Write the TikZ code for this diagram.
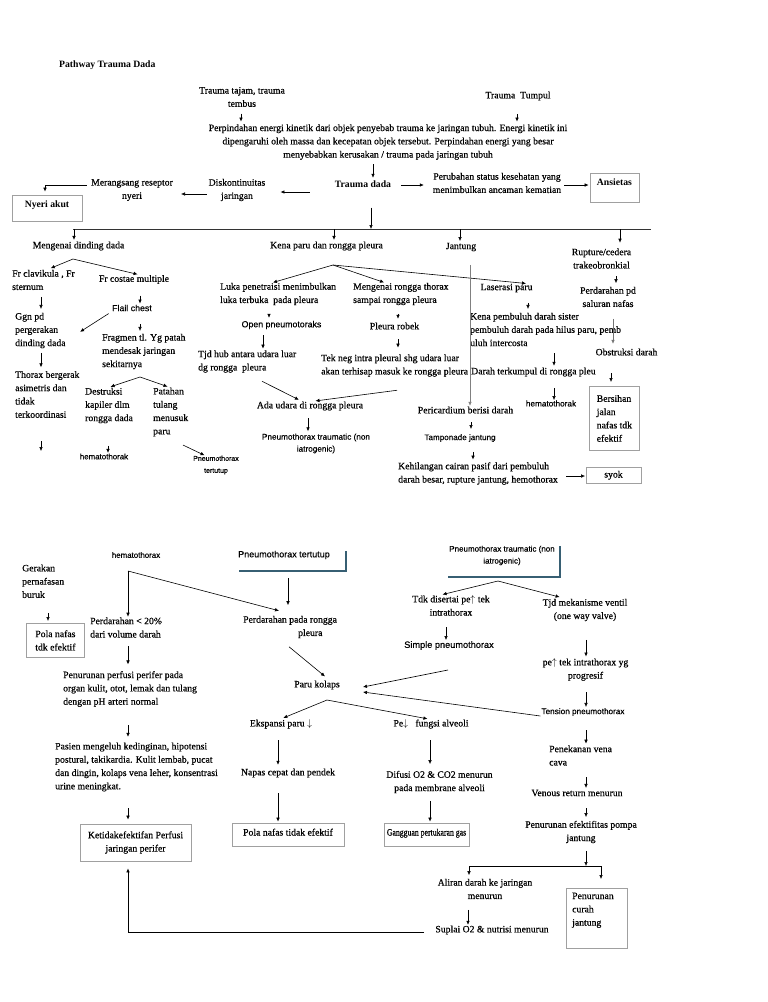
\documentclass[tikz,border=0pt]{standalone}
\usepackage{fontspec}
\setmainfont{Liberation Serif}[UprightFeatures={FakeBold=0.5}]
\setsansfont{Liberation Sans}[UprightFeatures={FakeBold=0.4}]
\usetikzlibrary{arrows.meta,calc}
\newcommand\myfm{\fontsize{9.7}{13.3}\selectfont}
\newcommand\mysf[1]{\sffamily\fontsize{#1}{12}\selectfont}
\definecolor{tealln}{RGB}{55,95,115}
\definecolor{boxg}{RGB}{160,160,160}
\tikzset{
 t/.style={font=\myfm, inner sep=0pt, align=center},
 tl/.style={font=\myfm, inner sep=0pt, align=left, anchor=west},
 s/.style={font=\mysf{#1}, inner sep=0pt, align=center},
 bx/.style={draw=boxg, line width=0.8pt},
 arr/.style={draw=black, line width=0.6pt, -{Latex[length=4pt,width=3.6pt]}},
 va/.style 2 args={arr, shorten <=#1, shorten >=#2},
 ln/.style={draw=black, line width=0.6pt},
}
\begin{document}
\begin{tikzpicture}[x=1pt,y=-1pt]
\fill[white] (0,0) rectangle (768,1002);
\useasboundingbox (0,0) rectangle (768,1002);

% ---------------- top ----------------
\node[tl, font=\myfm\bfseries] (title) at (59,65) {Pathway Trauma Dada};
\node[t] (tt) at (242,97) {Trauma tajam, trauma\\tembus};
\node[t] (tp) at (518,96) {Trauma\ \ Tumpul};
\node[t] (pe) at (388,142) {Perpindahan energi kinetik dari objek penyebab trauma ke jaringan tubuh. Energi kinetik ini\\dipengaruhi oleh massa dan kecepatan objek tersebut. Perpindahan energi yang besar\\menyebabkan kerusakan / trauma pada jaringan tubuh};
\node[t, font=\myfm\bfseries] (td) at (363,184) {Trauma dada};
\node[t] (dk) at (237,190) {Diskontinuitas\\jaringan};
\node[t] (mr) at (132,190) {Merangsang reseptor\\nyeri};
\node[bx, font=\myfm\bfseries, inner sep=0pt, anchor=base, minimum width=70pt, text height=12.5pt, text depth=13.5pt] (na) at (47,207.5) {Nyeri akut};
\node[t] (ps) at (497,183) {Perubahan status kesehatan yang\\menimbulkan ancaman kematian};
\node[bx, font=\myfm\bfseries, inner sep=0pt, anchor=base, minimum width=49pt, text height=12.5pt, text depth=16.5pt] (an) at (614.5,185.5) {Ansietas};

\draw[va={6.5pt}{2.5pt}] (tt.south -| 241,0) -- (pe.north -| 241,0);
\draw[va={13.5pt}{2.5pt}] (tp.south -| 517,0) -- (pe.north -| 517,0);
\draw[va={4.5pt}{2.6pt}] (pe.south -| 373,0) -- (td.north -| 373,0);
\draw[va={25pt}{15pt}] (td.west |- 0,192) -- (dk.east |- 0,192);
\draw[va={2pt}{8pt}] (dk.west |- 0,194) -- (mr.east |- 0,194);
\draw[va={4pt}{3pt}] (mr.west |- 0,185) -| (na.north -| 45,0);
\draw[va={9.5pt}{8.9pt}] (td.east |- 0,185) -- (ps.west |- 0,185);
\draw[va={3pt}{1pt}] (ps.east |- 0,185) -- (an.west |- 0,185);

% bus
\coordinate (busL) at (73,229);
\coordinate (busR) at (651,229);
\coordinate (busC) at (371,229);
\draw[ln, draw=black!80] (busL) -- (busR);
\draw[va={20pt}{0pt}] (td.south -| busC) -- (busC);

\node[t] (md) at (78.5,246) {Mengenai dinding dada};
\node[t] (kp) at (326.5,246) {Kena paru dan rongga pleura};
\node[t] (ja) at (461,247) {Jantung};
\node[t] (rc) at (601.5,258.5) {Rupture/cedera\\trakeobronkial};
\draw[va={0pt}{1.5pt}] (busL -| 74,0) -- (md.north -| 74,0);
\draw[va={0pt}{1.5pt}] (busL -| 334,0) -- (kp.north -| 334,0);
\draw[va={0pt}{1.5pt}] (busL -| 460,0) -- (ja.north -| 460,0);
\draw[va={0pt}{5.5pt}] (busL -| 620,0) -- (rc.north -| 620,0);

% ---------------- left subtree ----------------
\node[tl] (fc) at (12,280) {Fr clavikula , Fr\\sternum};
\node[t] (fm) at (134,279.5) {Fr costae multiple};
\coordinate (mdj) at (73,259);
\draw[va={0pt}{4pt}] (mdj) -- (fc.north -| 47,0);
\draw[va={0pt}{2.5pt}] (mdj) -- (fm.north -| 140,0);
\node[s=8.8] (fl) at (132,308) {Flail chest};
\node[tl] (gg) at (15,330.5) {Ggn pd\\pergerakan\\dinding dada};
\node[tl] (fr) at (102,351.5) {Fragmen tl. Yg patah\\mendesak jaringan\\sekitarnya};
\node[tl] (th) at (15,394.5) {Thorax bergerak\\asimetris dan\\tidak\\terkoordinasi};
\node[tl] (de) at (85,405.5) {Destruksi\\kapiler dlm\\rongga dada};
\node[tl] (pt) at (153,412) {Patahan\\tulang\\menusuk\\paru};
\node[s=7.9] (he1) at (104,456.5) {hematothorak};
\node[s=7] (pn1) at (216,465) {Pneumothorax\\tertutup};

\draw[va={6.5pt}{3.6pt}] (fc.south -| 41,0) -- (gg.north -| 41,0);
\draw[va={11.5pt}{1pt}] (fm.south -| 140,0) -- (fl.north -| 140,0);
\draw[va={13pt}{2.6pt}] (fl.south -| 140,0) -- (fr.north -| 140,0);
\draw[va={4pt}{17pt}] (fl.south west) -- (gg.east |- 0,341);
\draw[va={4.5pt}{3.6pt}] (gg.south -| 41,0) -- (th.north -| 41,0);
\coordinate (frj) at (140,377);
\draw[va={0pt}{2.6pt}] (frj) -- (de.north -| 108,0);
\draw[va={0pt}{2.6pt}] (frj) -- (pt.north -| 170,0);
\draw[arr] (th.south -| 41,0) ++(0,23) -- ++(0,10);
\draw[va={22.5pt}{0.5pt}] (de.south -| 108,0) -- (he1.north -| 108,0);
\draw[va={0pt}{0.5pt}] (pt.south -| 183,0) ++(0,8.5) -- (pn1.north -| 205,0);

% ---------------- middle subtree ----------------
\node[tl] (lp) at (220,294) {Luka penetraisi menimbulkan\\luka terbuka\ \ pada pleura};
\node[tl] (mt) at (353,294) {Mengenai rongga thorax\\sampai rongga pleura};
\node[t] (ls) at (506.5,288) {Laserasi paru};
\coordinate (kpj) at (333,265);
\draw[va={0pt}{1pt}] (kpj) -- (lp.north -| 272,0);
\draw[va={0pt}{1pt}] (kpj) -- (mt.north -| 385,0);
\draw[va={0pt}{1pt}] (kpj) -- (ls.north -| 527,0);
\node[s=8.8] (op) at (281.5,325) {Open pneumotoraks};
\node[t] (pr) at (394.5,326) {Pleura robek};
\node[tl] (kpd) at (470,329.5) {Kena pembuluh darah sister\\pembuluh darah pada hilus paru, pemb\\uluh intercosta};
\draw[va={9.5pt}{2.9pt}] (lp.south -| 269,0) -- (op.north -| 269,0);
\draw[va={8.5pt}{3.6pt}] (mt.south -| 398,0) -- (pr.north -| 398,0);
\draw[va={10.5pt}{3.6pt}] (ls.south -| 528,0) -- (kpd.north -| 528,0);
\node[tl] (tj) at (198,361.5) {Tjd hub antara udara luar\\dg rongga\ \ pleura};
\node[tl] (tn) at (321,365.5) {Tek neg intra pleural shg udara luar\\akan terhisap masuk ke rongga pleura};
\draw[va={6pt}{1.6pt}] (op.south -| 263,0) -- (tj.north -| 263,0);
\draw[va={9.5pt}{6.6pt}] (pr.south -| 398,0) -- (tn.north -| 398,0);
\node[t] (au) at (310,406) {Ada udara di rongga pleura};
\draw[va={0pt}{3.5pt}] (tj.south -| 262,0) ++(0,8.5) -- (au.north -| 302,0);
\draw[va={0pt}{3.5pt}] (tn.south -| 397,0) ++(0,13.5) -- (au.north -| 312,0);
\node[s=8.2] (pnt) at (316,443.5) {Pneumothorax traumatic (non\\iatrogenic)};
\draw[va={7.5pt}{2.2pt}] (au.south -| 308,0) -- (pnt.north -| 308,0);
\node[tl] (dt) at (471,372) {Darah terkumpul di rongga pleu};
\node[s=8.2] (he2) at (551,403.5) {hematothorak};
\draw[va={7pt}{1.6pt}] (kpd.south -| 554,0) -- (dt.north -| 554,0);
\draw[va={11.5pt}{0.2pt}] (dt.south -| 554,0) -- (he2.north -| 554,0);
\node[t] (pc) at (465.5,410) {Pericardium berisi darah};
\draw[va={0pt}{0.6pt}, draw=black!50] (ja.south -| 470,0) ++(0,13.5) -- (pc.north -| 470,0);
\node[s=8.1] (tpj) at (460,438) {Tamponade jantung};
\draw[va={8.5pt}{5pt}] (pc.south -| 471,0) -- (tpj.north -| 471,0);
\node[tl] (kc) at (398,473.5) {Kehilangan cairan pasif dari pembuluh\\darah besar, rupture jantung, hemothorax};
\draw[va={10pt}{2.6pt}] (tpj.south -| 473,0) -- (kc.north -| 473,0);
\node[bx, font=\myfm, inner sep=0pt, anchor=base, minimum width=55pt, text height=10.5pt, text depth=5.5pt] (sy) at (613.5,477.5) {syok};
\draw[va={8pt}{0.5pt}] (kc.east |- 0,476) -- (sy.west |- 0,476);

% ---------------- right subtree ----------------
\node[t] (ps2) at (608,297) {Perdarahan pd\\saluran nafas};
\node[t] (ob) at (626.5,352) {Obstruksi darah};
\node[bx, font=\myfm, inner sep=0pt, align=left, minimum width=50pt, minimum height=64pt, anchor=north west] (bj) at (589,386) {Bersihan\\jalan\\nafas tdk\\efektif};
\draw[va={7.5pt}{3.6pt}] (rc.south -| 616,0) -- (ps2.north -| 616,0);
\draw[va={11.5pt}{4.6pt}, draw=black!55] (ps2.south -| 613,0) -- (ob.north -| 613,0);
\draw[va={17.7pt}{4pt}] (ob.south -| 611,0) -- (bj.north -| 611,0);

% ---------------- bottom ----------------
\node[s=7.9] (hx) at (136,555) {hematothorax};
\node[s=9] (pntt) at (284,555) {Pneumothorax tertutup};
\draw[tealln, line width=1.3pt] (239,571) -- (346,571) -- (346,551);
\node[s=8] (pnt2) at (502,555.5) {Pneumothorax traumatic (non\\iatrogenic)};
\draw[tealln, line width=1.3pt] (448,577) -- (560,577) -- (560,546);
\node[tl] (gp) at (22,581.3) {Gerakan\\pernafasan\\buruk};
\node[bx, font=\myfm, inner sep=0pt, align=left, minimum width=58pt, minimum height=34pt, anchor=north west] (pn2) at (26,623) {Pola nafas\\tdk efektif};
\draw[va={15pt}{2pt}] (gp.south -| 48,0) -- (pn2.north -| 48,0);
\node[tl] (pd) at (90,627.5) {Perdarahan < 20\%\\dari volume darah};
\node[tl] (prp) at (243,627) {Perdarahan pada rongga\\\hspace*{55pt}pleura};
\coordinate (hxj) at (128,571);
\draw[va={0pt}{0.5pt}] (hxj) -- (pd.north -| hxj);
\draw[arr] (hxj) -- ($(prp.north -| 279,0)+(0,-5)$);
\draw[va={19pt}{10.6pt}] (pntt.south -| 288,0) -- (prp.north -| 288,0);
\node[tl] (ppp) at (63,689) {Penurunan perfusi perifer pada\\organ kulit, otot, lemak dan tulang\\dengan pH arteri normal};
\draw[va={8.5pt}{6.6pt}] (pd.south -| 128,0) -- (ppp.north -| 128,0);
\node[t] (pk) at (317,685) {Paru kolaps};
\draw[arr] ($(prp.south -| 289,0)+(0,8.5)$) -- ($(pk.north)+(8,-4)$);

\node[t] (tdk) at (451,605.5) {Tdk disertai pe$\uparrow$ tek\\intrathorax};
\node[t] (tmv) at (585,610) {Tjd mekanisme ventil\\(one way valve)};
\coordinate (pnj) at (498,581);
\draw[va={0pt}{2.6pt}] (pnj) -- (tdk.north -| 440,0);
\draw[va={0pt}{6.6pt}] (pnj) -- (tmv.north -| 566,0);
\node[s=9.2] (sp) at (449,645.5) {Simple pneumothorax};
\draw[va={11.5pt}{1pt}] (tdk.south -| 446,0) -- (sp.north -| 446,0);
\draw[arr] ($(sp.south)+(-1,20)$) -- ($(pk.east)+(23,2)$);
\node[t] (pti) at (585.5,669.5) {pe$\uparrow$ tek intrathorax yg\\progresif};
\draw[va={18.5pt}{1.6pt}] (tmv.south -| 586,0) -- (pti.north -| 586,0);
\node[s=8.2] (tsp) at (583,712) {Tension pneumothorax};
\draw[va={11.5pt}{1pt}] (pti.south -| 586,0) -- (tsp.north -| 586,0);
\draw[arr] ($(tsp.west)+(-1,4)$) -- ($(pk.east)+(23,7)$);

\coordinate (pkj) at (327,700);
\node[t] (ek) at (281,724) {Ekspansi paru $\downarrow$};
\node[t] (pf) at (431,724) {Pe$\downarrow$\ \ \ fungsi alveoli};
\draw[va={0pt}{3.6pt}] (pkj) -- (ek.north -| 280,0);
\draw[va={0pt}{2.6pt}] (pkj) -- (pf.north -| 430,0);

\node[tl] (pv) at (549,755.5) {Penekanan vena\\cava};
\draw[va={14pt}{1.6pt}] (tsp.south -| 586,0) -- (pv.north -| 586,0);
\node[t] (vr) at (577,793) {Venous return menurun};
\draw[va={11.7pt}{1.6pt}] (pv.south -| 586,0) -- (vr.north -| 586,0);
\node[t] (pep) at (581,832) {Penurunan efektifitas pompa\\jantung};
\draw[va={11.7pt}{3.6pt}] (vr.south -| 586,0) -- (pep.north -| 586,0);
\coordinate (spl) at (586,866);
\coordinate (spL) at (469,866);
\coordinate (spR) at (601,866);
\draw[va={7.5pt}{0pt}] (pep.south -| spl) -- (spl);
\draw[ln] (spL) -- (spR);
\node[t] (ad) at (485,889) {Aliran darah ke jaringan\\menurun};
\node[bx, minimum width=61pt, minimum height=60pt, anchor=north west, inner sep=0pt] (pcjb) at (566,888) {};
\node[tl, anchor=north west] (pcj) at (572,892.5) {Penurunan\\curah\\jantung};
\draw[va={0pt}{3.6pt}] (spL) -- (ad.north -| spL);
\draw[va={0pt}{9pt}] (spR) -- (pcjb.north -| spR);
\node[t] (su) at (492,930) {Suplai O2 \& nutrisi menurun};
\draw[va={10.7pt}{0.6pt}] (ad.south -| 468,0) -- (su.north -| 468,0);

\node[bx, font=\myfm, inner sep=0pt, align=center, minimum width=111pt, minimum height=37pt] (kef) at (135.5,842.5) {Ketidakefektifan Perfusi\\jaringan perifer};
\draw[va={11pt}{7pt}] (su.west |- 0,932) -| (kef.south -| 128,0);
\node[tl] (pas) at (55,767) {Pasien mengeluh kedinginan, hipotensi\\postural, takikardia. Kulit lembab, pucat\\dan dingin, kolaps vena leher, konsentrasi\\urine meningkat.};
\draw[va={18.5pt}{5.6pt}] (ppp.south -| 128,0) -- (pas.north -| 128,0);
\draw[va={16.5pt}{4pt}] (pas.south -| 128,0) -- (kef.north -| 128,0);

\node[t] (npc) at (288,773) {Napas cepat dan pendek};
\draw[va={11.5pt}{3.6pt}] (ek.south -| 278,0) -- (npc.north -| 278,0);
\node[bx, font=\myfm, inner sep=0pt, anchor=base, minimum width=112pt, text height=12.5pt, text depth=10.5pt] (pnte) at (288,835.5) {Pola nafas tidak efektif};
\draw[va={15.5pt}{1pt}] (npc.south -| 278,0) -- (pnte.north -| 278,0);
\node[t] (df) at (439.5,782) {Difusi O2 \& CO2 menurun\\pada membrane alveoli};
\draw[va={11.5pt}{6.6pt}] (pf.south -| 430,0) -- (df.north -| 430,0);
\node[bx, font=\myfm, inner sep=0pt, anchor=base, minimum width=85pt, text height=12.5pt, text depth=10.5pt] (gpg) at (426.5,835.5) {\scalebox{0.8}[1]{Gangguan pertukaran gas}};
\draw[va={7.5pt}{1pt}] (df.south -| 430,0) -- (gpg.north -| 430,0);
\end{tikzpicture}
\end{document}
